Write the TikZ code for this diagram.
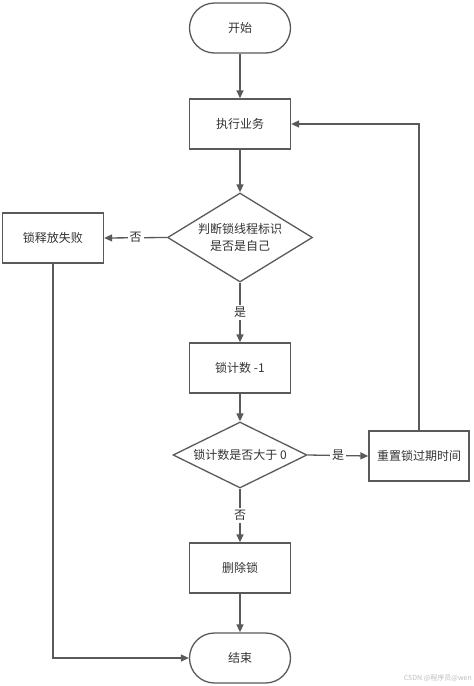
\documentclass[tikz,border=0pt]{standalone}
\usepackage{fontspec}
\setmainfont{Noto Sans CJK SC}
\usetikzlibrary{shapes.geometric,arrows.meta}
\definecolor{ln}{HTML}{5A5A5A}
\definecolor{tx}{HTML}{333333}
\begin{document}
\begin{tikzpicture}[x=1pt,y=-1pt,
  every node/.style={text=tx,font=\fontsize{12}{17}\selectfont},
  procbox/.style={draw=ln,line width=1.3pt,rectangle,minimum width=101pt,minimum height=50pt,inner sep=2pt,fill=white},
  termbox/.style={draw=ln,line width=1.3pt,rectangle,rounded corners=25pt,minimum width=101pt,minimum height=50pt,inner sep=2pt,fill=white},
  decbox/.style={draw=ln,line width=1.3pt,diamond,inner sep=0pt,fill=white},
  conn/.style={draw=ln,line width=1.3pt,-{Triangle[length=8pt,width=7pt]}},
  lbl/.style={fill=white,inner sep=2pt}
]
\path[use as bounding box,fill=white] (0,0) rectangle (474,686);
\node[termbox] (start) at (240,28) {开始};
\node[procbox] (task) at (240,124) {执行业务};
\node[decbox,minimum width=145pt,minimum height=89pt,
  label={[align=center]center:判断锁线程标识\\是否是自己}] (d1) at (240,237.5) {};
\node[procbox] (fail) at (53,238) {锁释放失败};
\node[procbox] (dec) at (240,368) {锁计数 -1};
\node[decbox,minimum width=134pt,minimum height=66pt,
  label={center:锁计数是否大于 0}] (d2) at (240,455) {};
\node[procbox,minimum width=100pt] (reset) at (419,456) {重置锁过期时间};
\node[procbox] (del) at (240,568) {删除锁};
\node[termbox] (end) at (240,658) {结束};
\node[text=black!25,font=\fontsize{7}{8}\selectfont,anchor=east,inner sep=0pt] (wm) at (472,678) {CSDN @程序员@wen};

\draw[conn] (start) -- (task);
\draw[conn] (task) -- (d1);
\draw[conn] (d1.west) -- node[lbl] {否} (fail.east);
\draw[conn] (d1.south) -- node[lbl] {是} (dec.north);
\draw[conn] (dec) -- (d2);
\draw[conn] (d2.east) -- node[lbl] {是} (reset.west);
\draw[conn] (reset.north) |- (task.east);
\draw[conn] (d2.south) -- node[lbl] {否} (del.north);
\draw[conn] (del) -- (end);
\draw[conn] (fail.south) |- (end.west);
\end{tikzpicture}
\end{document}
